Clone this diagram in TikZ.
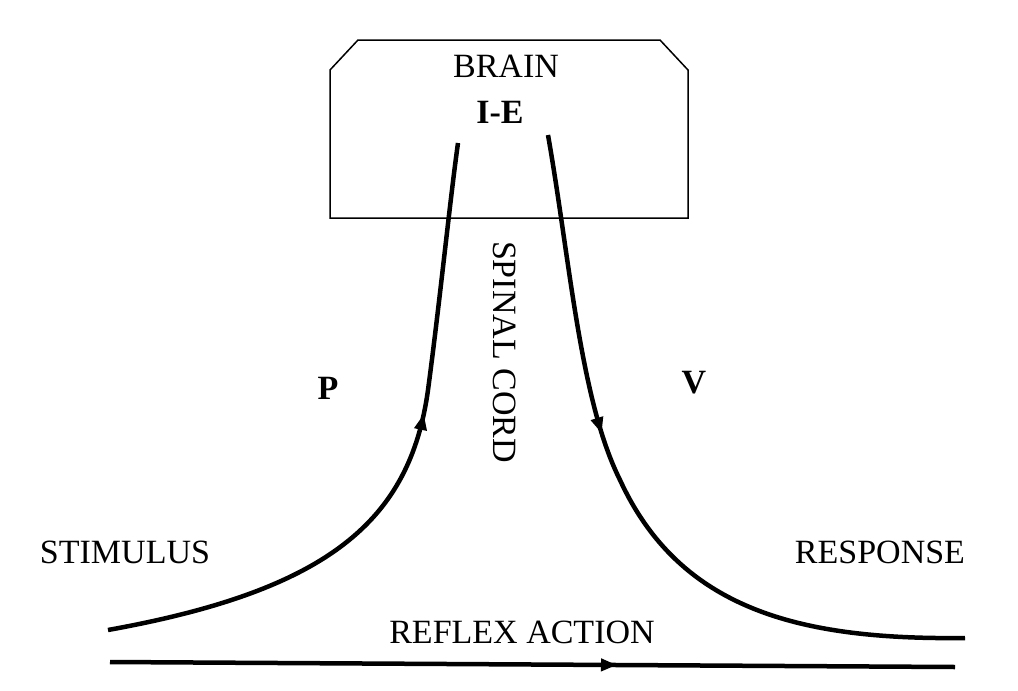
\documentclass[tikz,border=0pt]{standalone}
\usepackage{fontspec}
\setmainfont{Liberation Serif}
\usetikzlibrary{decorations.markings,arrows.meta}
\begin{document}
\begin{tikzpicture}[x=1pt,y=-1pt,
  nerve/.style={line width=4.5pt},
  lbl/.style={font=\fontsize{34}{36}\selectfont},
  mark/.style={postaction={decorate,decoration={markings,mark=at position #1 with {\arrow{Triangle[length=16pt,width=12pt]}}}}}]
\useasboundingbox (0,0) rectangle (1018,691);
\draw[line width=1.5pt] (330,218) -- (330,70) -- (358,40) -- (660,40) -- (688,70) -- (688,218) -- cycle;
\node[lbl] (brain) at (506,66) {BRAIN};
\node[lbl,font=\bfseries\fontsize{34}{36}\selectfont] (ie) at (500,112) {I-E};
\coordinate (s0) at (108,630);
\coordinate (s1) at (458,143);
\coordinate (r0) at (548,135);
\coordinate (r1) at (965,638);
\draw[nerve,mark=0.6] (s0) .. controls (330,590) and (410,520) .. (428,390) .. controls (440,300) and (450,200) .. (s1);
\draw[nerve,mark=0.4] (r0) .. controls (570,260) and (580,400) .. (620,480) .. controls (680,610) and (800,640) .. (r1);
\coordinate (b0) at (110,662);
\coordinate (b1) at (955,667);
\draw[nerve,mark=0.6] (b0) -- (b1);
\node[lbl,rotate=-90] (sc) at (505,352) {SPINAL CORD};
\node[lbl,font=\bfseries\fontsize{34}{36}\selectfont] (p) at (328,388) {P};
\node[lbl,font=\bfseries\fontsize{34}{36}\selectfont] (v) at (694,383) {V};
\node[lbl] (st) at (125,552) {STIMULUS};
\node[lbl] (re) at (880,552) {RESPONSE};
\node[lbl] (ra) at (522,632) {REFLEX ACTION};
\end{tikzpicture}
\end{document}
